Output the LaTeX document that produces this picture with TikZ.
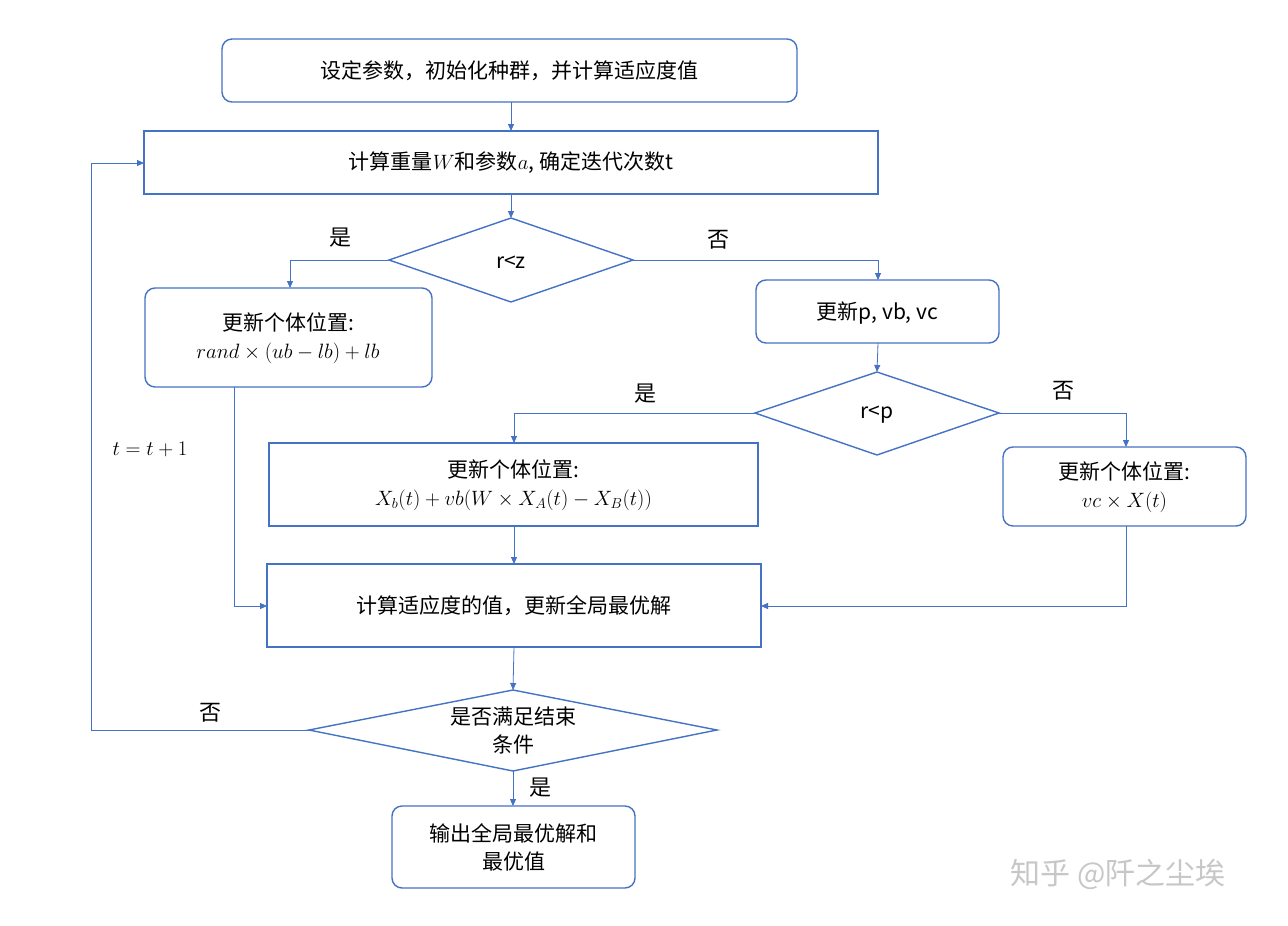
\documentclass[tikz,border=0pt]{standalone}
\usepackage{fontspec}
\newfontfamily\cjk{Noto Sans CJK SC}
\usetikzlibrary{arrows.meta,shapes.geometric}
\definecolor{ln}{HTML}{4472C4}
\begin{document}
\begin{tikzpicture}[x=1pt,y=-1pt,
  every node/.style={font=\cjk\fontsize{21}{28}\selectfont,align=center,inner sep=0},
  bx/.style={draw=ln,line width=1.4pt},
  rb/.style={bx,rounded corners=10pt},
  ar/.style={draw=ln,line width=0.8pt,-{Triangle[length=7pt,width=6pt]}},
  lbl/.style={font=\cjk\fontsize{22}{26}\selectfont}]
\useasboundingbox[fill=white] (0,0) rectangle (1288,926);
\draw[rb] (222,39) rectangle (797,102);
\node (b1) at (509.5,70.5) {设定参数，初始化种群，并计算适应度值};
\coordinate (b1s) at (511,102);
\draw[bx] (144,131) rectangle (878,194);
\node (b2) at (511,162.5) {计算重量$W$和参数$a$, 确定迭代次数t};
\coordinate (b2n) at (511,131); \coordinate (b2s) at (511,194); \coordinate (b2w) at (144,163);
\draw[bx] (389,260) -- (511,218) -- (633,260) -- (511,302) -- cycle;
\node (d1) at (511,262) {r<z};
\coordinate (d1n) at (511,218); \coordinate (d1w) at (389,260); \coordinate (d1e) at (633,260);
\node[lbl] (y1) at (340,238) {是};
\node[lbl] (n1) at (718,240) {否};
\draw[rb] (145,288) rectangle (432,387);
\node (bl) at (288,338) {更新个体位置:\\$rand\times(ub-lb)+lb$};
\coordinate (bln) at (290,288); \coordinate (bls) at (234,387);
\draw[rb] (756,280) rectangle (999,343);
\node (r1) at (877.5,313) {更新p, vb, vc};
\coordinate (r1n) at (878,280); \coordinate (r1s) at (878,343);
\draw[bx] (755,413) -- (877,372) -- (999,413) -- (877,455) -- cycle;
\node (d2) at (877,415) {r<p};
\coordinate (d2n) at (877,372); \coordinate (d2w) at (755,413); \coordinate (d2e) at (999,413);
\node[lbl] (y2) at (645,394) {是};
\node[lbl] (n2) at (1063,391) {否};
\draw[bx] (269,443) rectangle (758,526);
\node (bm) at (513.5,485) {更新个体位置:\\$X_b(t)+vb\big(W\times X_A(t)-X_B(t)\big)$};
\coordinate (bmn) at (514,443); \coordinate (bms) at (514,526);
\draw[rb] (1003,447) rectangle (1246,526);
\node (r2) at (1124.5,487) {更新个体位置:\\$vc\times X(t)$};
\coordinate (r2n) at (1126,447); \coordinate (r2s) at (1126,526);
\draw[bx] (267,564) rectangle (761,647);
\node (bc) at (514,606) {计算适应度的值，更新全局最优解};
\coordinate (bcn) at (514,564); \coordinate (bcs) at (514,647);
\coordinate (bcw) at (267,606); \coordinate (bce) at (761,606);
\draw[bx] (309,730) -- (513,690) -- (717,730) -- (513,771) -- cycle;
\node (d3) at (513,731) {是否满足结束\\条件};
\coordinate (d3n) at (513,690); \coordinate (d3s) at (513,771); \coordinate (d3w) at (309,730);
\node[lbl] (n3) at (210,713) {否};
\node[lbl] (y3) at (540,788) {是};
\node[lbl] (tt) at (150,449) {$t=t+1$};
\draw[rb] (392,806) rectangle (635,888);
\node (be) at (513.5,847) {输出全局最优解和\\最优值};
\coordinate (ben) at (513,806);
\node[font=\cjk\fontsize{30}{34}\selectfont,text=black!22] (wm) at (1118,874) {知乎 @阡之尘埃};
\draw[ar] (b1s) -- (b2n);
\draw[ar] (b2s) -- (d1n);
\draw[ar] (d1w) -| (bln);
\draw[ar] (d1e) -| (r1n);
\draw[ar] (r1s) -- (d2n);
\draw[ar] (d2w) -| (bmn);
\draw[ar] (d2e) -| (r2n);
\draw[ar] (bms) -- (bcn);
\draw[ar] (bls) |- (bcw);
\draw[ar] (r2s) |- (bce);
\draw[ar] (bcs) -- (d3n);
\draw[ar] (d3s) -- (ben);
\draw[ar] (d3w) -- (91,730) -- (91,163) -- (b2w);
\end{tikzpicture}
\end{document}
